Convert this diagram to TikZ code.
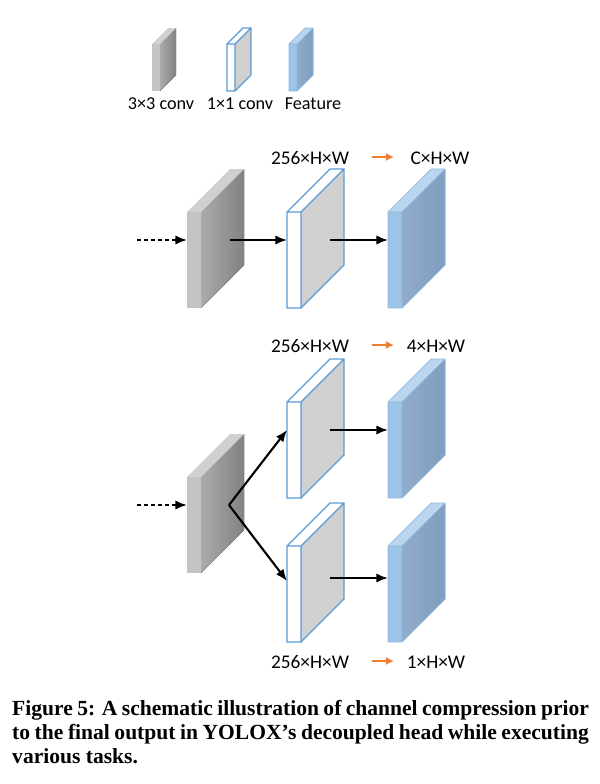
\documentclass[tikz,border=0pt]{standalone}
\usepackage{fontspec}
\setmainfont{Liberation Serif}
\newfontfamily\labelfont{Carlito}
\usetikzlibrary{positioning, calc, arrows.meta}

\definecolor{convfront}{HTML}{C4C4C4}
\definecolor{convside}{HTML}{A2A2A2}
\definecolor{pwside}{HTML}{D0D0D0}
\definecolor{edgeblue}{HTML}{5B9BD5}
\definecolor{featfront}{HTML}{9DC3E6}
\definecolor{featside}{HTML}{7F9DC0}
\definecolor{arrorange}{HTML}{ED7D31}

% block: #1 style prefix, #2 x, #3 y (front top-left), #4 width, #5 depth, #6 height
\newcommand{\drawblock}[6]{%
  \fill[#1side] ($(#2,#3)+(#4,0)$) -- ++(#5,-#5) -- ++(0,#6) -- ++(-#5,#5) -- cycle;
  \fill[#1top] (#2,#3) -- ++(#5,-#5) -- ++(#4,0) -- ++(-#5,#5) -- cycle;
  \fill[#1front] (#2,#3) rectangle ++(#4,#6);
  \draw[#1edge] (#2,#3) rectangle ++(#4,#6)
    (#2,#3) -- ++(#5,-#5) -- ++(#4,0) -- ++(0,#6) -- ++(-#5,#5)
    ($(#2,#3)+(#4,0)$) -- ++(#5,-#5);
}

\tikzset{
  conv3side/.style={left color=convside!90, right color=convside!80!black},
  conv3top/.style={fill=convfront!80},
  conv3front/.style={fill=convfront},
  conv3edge/.style={draw=none},
  conv1side/.style={fill=pwside},
  conv1top/.style={fill=white},
  conv1front/.style={fill=white},
  conv1edge/.style={draw=edgeblue, line width=1pt},
  featside/.style={left color=featside!85!white, right color=featside},
  feattop/.style={fill=featfront!70!white},
  featfront/.style={fill=featfront},
  featedge/.style={draw=edgeblue!70, line width=0.6pt},
  dims/.style={font=\labelfont\fontsize{16.5}{16.5}\selectfont, inner sep=0pt},
  legend/.style={font=\labelfont\fontsize{15.5}{15.5}\selectfont, inner sep=0pt},
  flow/.style={-{Latex[length=10pt,width=8pt]}, line width=1.8pt},
  compress/.style={-{Latex[length=7pt,width=7pt]}, arrorange, line width=1.4pt},
}

\begin{document}
\begin{tikzpicture}[x=0.03cm, y=-0.03cm]
\useasboundingbox (0,0) rectangle (600,784);

% legend
\drawblock{conv3}{152}{44}{8}{16}{47}
\drawblock{conv1}{227}{44}{8}{16}{47}
\drawblock{feat}{289}{44}{8}{16}{47}
\node[legend] (leg3) at (161,104) {3×3 conv};
\node[legend] (leg1) at (240,104) {1×1 conv};
\node[legend] (legf) at (313,104) {Feature};

% single branch
\drawblock{conv3}{187}{212}{14}{43}{96}
\drawblock{conv1}{287}{212}{14}{43}{96}
\drawblock{feat}{388}{212}{14}{43}{96}
\coordinate (inA) at (137,240);
\coordinate (convA) at (187,240);
\coordinate (convAout) at (230,240);
\coordinate (pwA) at (287,240);
\coordinate (pwAout) at (330,240);
\coordinate (featA) at (388,240);
\draw[flow, dashed] (inA) -- (convA);
\draw[flow] (convAout) -- (pwA);
\draw[flow] (pwAout) -- (featA);
\node[dims] (dimA) at (310,158) {256×H×W};
\node[dims] (outA) at (440,158) {C×H×W};
\coordinate (cA1) at (372,157);
\coordinate (cA2) at (394,157);
\draw[compress] (cA1) -- (cA2);

% two branches
\drawblock{conv3}{187}{477}{14}{43}{96}
\drawblock{conv1}{287}{402}{14}{43}{96}
\drawblock{feat}{388}{402}{14}{43}{96}
\drawblock{conv1}{287}{546}{14}{43}{96}
\drawblock{feat}{388}{546}{14}{43}{96}
\coordinate (inB) at (137,505);
\coordinate (convB) at (187,505);
\coordinate (split) at (229,505);
\coordinate (pwB) at (287,430);
\coordinate (pwC) at (287,581);
\coordinate (pwBout) at (330,430);
\coordinate (featB) at (388,430);
\coordinate (pwCout) at (330,578);
\coordinate (featC) at (388,578);
\draw[flow, dashed] (inB) -- (convB);
\draw[flow] (split) -- (pwB);
\draw[flow] (split) -- (pwC);
\draw[flow] (pwBout) -- (featB);
\draw[flow] (pwCout) -- (featC);
\node[dims] (dimB) at (310,346) {256×H×W};
\node[dims] (outB) at (436,346) {4×H×W};
\coordinate (cB1) at (372,345);
\coordinate (cB2) at (394,345);
\draw[compress] (cB1) -- (cB2);
\node[dims] (dimC) at (310,662) {256×H×W};
\node[dims] (outC) at (436,662) {1×H×W};
\coordinate (cC1) at (372,661);
\coordinate (cC2) at (394,661);
\draw[compress] (cC1) -- (cC2);

% caption
\node[anchor=north west, text width=17.3cm, align=justify, inner sep=0pt,
  font=\bfseries\fontsize{18.4}{20.6}\selectfont] (caption) at (12,700)
  {Figure 5: A schematic illustration of channel compression prior to the final output in YOLOX’s decoupled head while executing various tasks.};
\end{tikzpicture}
\end{document}
